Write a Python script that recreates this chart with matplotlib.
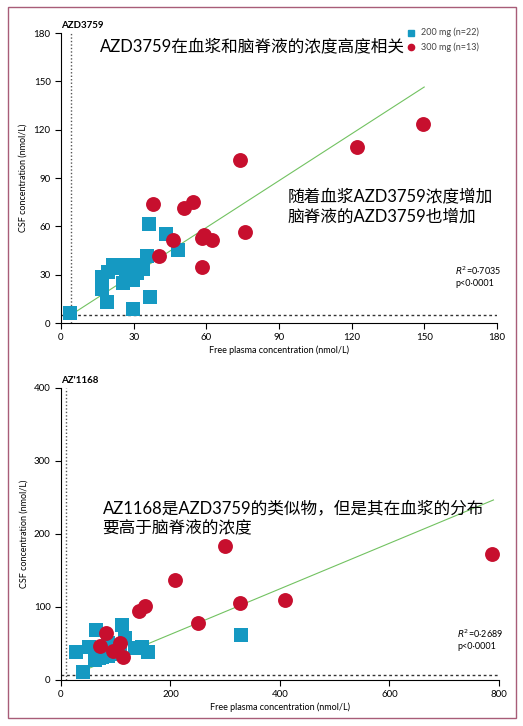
import matplotlib.pyplot as plt
from matplotlib.patches import Rectangle
import numpy as np

plt.rcParams['font.family'] = ['Lato', 'Noto Sans CJK SC', 'DejaVu Sans']

# AZD3759 panel
azd_200_x = [3.7, 19.1, 29.6, 36.7, 16.8, 16.8, 19.5, 21.6, 25.1, 28.5, 30.5, 25.7,
             29.9, 31.2, 34.0, 35.4, 36.3, 43.4, 48.4, 23.5, 27.0, 32.0]
azd_200_y = [6.0, 12.8, 8.5, 16.3, 21.1, 28.8, 31.9, 36.0, 36.0, 36.0, 35.0, 24.6,
             26.7, 30.8, 33.5, 41.4, 61.3, 55.2, 45.5, 34.0, 29.0, 36.0]
azd_300_x = [37.8, 50.9, 54.4, 46.4, 40.6, 58.1, 59.0, 62.5, 58.4, 76.0, 74.0, 122.2, 149.5]
azd_300_y = [73.9, 71.2, 75.1, 51.5, 41.6, 52.6, 54.6, 51.5, 35.0, 56.3, 101.0, 109.2, 123.5]
azd_fit_x = [3.3, 150.0]
azd_fit_y = [4.3, 146.5]

# AZ'1168 panel
az_200_x = [39.6, 27.4, 51.7, 63.3, 110.8, 116.9, 62.1, 74.3, 86.4, 89.5, 98.6,
            107.8, 135.2, 147.4, 159.5, 80.4, 328.8, 70.0, 92.0, 102.0, 85.0, 95.0]
az_200_y = [11.4, 38.8, 45.6, 68.5, 75.3, 57.0, 27.4, 32.0, 50.2, 38.8, 38.8,
            38.8, 43.4, 45.6, 38.8, 41.0, 61.6, 30.0, 45.0, 35.0, 33.0, 42.0]
az_300_x = [208.0, 327.0, 251.0, 143.0, 153.0, 83.0, 114.0, 72.0, 108.0, 300.0, 409.0, 787.0, 95.0]
az_300_y = [137.0, 106.0, 78.0, 95.0, 101.0, 65.0, 31.0, 46.0, 50.0, 184.0, 110.0, 173.0, 40.0]
az_fit_x = [35.0, 790.0]
az_fit_y = [10.9, 246.6]

blue = '#1599c2'
red = '#c70f2e'
green = '#72c261'

fig = plt.figure(figsize=(5.23, 7.26), dpi=100)


def panel(ax, bx, by, rx, ry, fx, fy, xlim, ylim, xstep, ystep, lloq_x, lloq_y, name, stats, sy):
    ax.plot(fx, fy, color=green, lw=0.8, zorder=2)
    ax.scatter(bx, by, marker='s', s=115, color=blue, linewidths=0, zorder=3)
    ax.scatter(rx, ry, marker='o', s=115, color=red, linewidths=0, zorder=4)
    ax.plot([lloq_x, lloq_x], [0, ylim], color='#555555', lw=1, ls=(0, (1, 1.5)), zorder=1)
    ax.plot([0, xlim], [lloq_y, lloq_y], color='#333333', lw=1, ls=(0, (2, 2)), zorder=1)
    ax.set_xlim(0, xlim)
    ax.set_ylim(0, ylim)
    ax.set_xticks(np.arange(0, xlim + 1, xstep))
    ax.set_yticks(np.arange(0, ylim + 1, ystep))
    for s in ['top', 'right']:
        ax.spines[s].set_visible(False)
    for s in ['left', 'bottom']:
        ax.spines[s].set_linewidth(0.8)
    ax.tick_params(labelsize=7, length=4, width=0.8, direction='out')
    ax.set_xlabel('Free plasma concentration (nmol/L)', fontsize=6.5, labelpad=2)
    ax.set_ylabel('CSF concentration (nmol/L)', fontsize=6.5, labelpad=4)
    ax.text(0, 1.01, name, transform=ax.transAxes, fontsize=7, fontweight='bold',
            ha='left', va='bottom')
    ax.text(0.905, sy, '$\\it{R}^2$=0·' + stats + '\np<0·0001', transform=ax.transAxes,
            fontsize=6.5, ha='left', va='center', linespacing=1.3)


ax1 = fig.add_axes([0.1166, 0.555, 0.8334, 0.3995])
panel(ax1, azd_200_x, azd_200_y, azd_300_x, azd_300_y, azd_fit_x, azd_fit_y,
      180, 180, 30, 30, 4, 5, 'AZD3759', '7035', 0.16)
ax1.text(0.09, 0.95, 'AZD3759在血浆和脑脊液的浓度高度相关', transform=ax1.transAxes,
         fontsize=12, ha='left', va='center')
ax1.text(0.52, 0.40, '随着血浆AZD3759浓度增加\n脑脊液的AZD3759也增加', transform=ax1.transAxes,
         fontsize=12, ha='left', va='center', linespacing=1.2)

ax2 = fig.add_axes([0.1166, 0.0634, 0.8374, 0.4022])
panel(ax2, az_200_x, az_200_y, az_300_x, az_300_y, az_fit_x, az_fit_y,
      800, 400, 200, 100, 10, 7, "AZ'1168", '2689', 0.14)
ax2.text(0.095, 0.555, 'AZ1168是AZD3759的类似物，但是其在血浆的分布\n要高于脑脊液的浓度',
         transform=ax2.transAxes, fontsize=12, ha='left', va='center', linespacing=1.2)

# legend
lx, ly = 0.785, 0.955
fig.add_artist(plt.Line2D([lx], [ly], marker='s', ms=4, color=blue, ls='none',
                          transform=fig.transFigure))
fig.add_artist(plt.Line2D([lx], [ly - 0.02], marker='o', ms=4.5, color=red, ls='none',
                          transform=fig.transFigure))
fig.text(lx + 0.02, ly, '200 mg (n=22)', fontsize=6.5, color='#444444', va='center')
fig.text(lx + 0.02, ly - 0.02, '300 mg (n=13)', fontsize=6.5, color='#444444', va='center')

# border
fig.add_artist(Rectangle((0.016, 0.011), 0.971, 0.98, transform=fig.transFigure,
                         fill=False, edgecolor='#a85c78', lw=1))

fig.savefig('out.png', dpi=100)
